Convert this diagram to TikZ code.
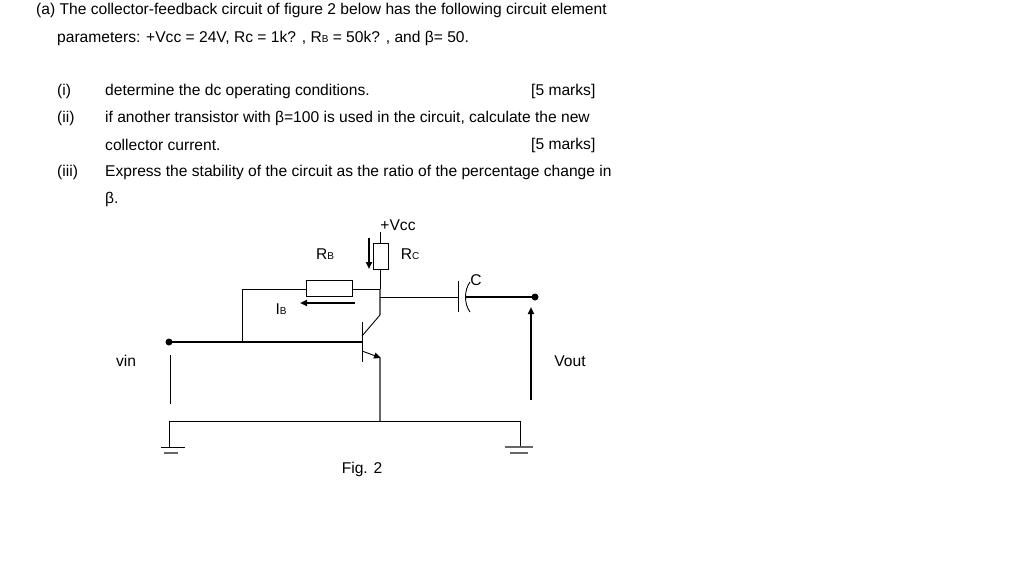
\documentclass[tikz,border=0pt]{standalone}
\usepackage{fontspec}
\setmainfont{Liberation Sans}
\usetikzlibrary{arrows.meta}
\begin{document}
\begin{tikzpicture}[x=1pt,y=-1pt,
  txt/.style={inner sep=0pt,anchor=west,font=\fontsize{15.6}{18}\selectfont},
  lbl/.style={inner sep=0pt,font=\fontsize{15.6}{18}\selectfont},
  wire/.style={line width=0.9pt},
  thick wire/.style={line width=2.4pt},
  gw/.style={line width=1.3pt,gray!80!black},
  res/.style={draw,line width=0.9pt,fill=white},
  arr/.style={line width=2.2pt,-{Triangle[length=7pt,width=6pt]}}]
\useasboundingbox (0,0) rectangle (1024,576);
\node[txt] (l1) at (36,10) {(a) The collector-feedback circuit of figure 2 below has the following circuit element};
\node[txt] (l2) at (57,38) {parameters: +Vcc = 24V, Rc = 1k? , R{\fontsize{10}{10}\selectfont B} = 50k? , and β= 50.};
\node[txt] (i1) at (57,91) {(i)};
\node[txt] (i2) at (105,91) {determine the dc operating conditions.};
\node[txt] (i3) at (531,91) {[5 marks]};
\node[txt] (ii1) at (57,118) {(ii)};
\node[txt] (ii2) at (105,118) {if another transistor with β=100 is used in the circuit, calculate the new};
\node[txt] (ii3) at (105,145) {collector current.};
\node[txt] (ii4) at (531,145) {[5 marks]};
\node[txt] (iii1) at (57,172) {(iii)};
\node[txt] (iii2) at (105,172) {Express the stability of the circuit as the ratio of the percentage change in};
\node[txt] (iii3) at (105,199) {β.};
% circuit
\node[lbl] (vcc) at (398,225) {+Vcc};
\node[lbl] (rbl) at (325,254) {R{\fontsize{10}{10}\selectfont B}};
\node[lbl] (rcl) at (410,254) {R{\fontsize{10}{10}\selectfont C}};
\node[lbl] (cl) at (476,280) {C};
\node[lbl] (ibl) at (281,309) {I{\fontsize{10}{10}\selectfont B}};
\node[lbl] (vin) at (126,361) {vin};
\node[lbl] (vout) at (570,361) {Vout};
\node[lbl] (fig) at (362,469) {Fig. 2};
\coordinate (ctop) at (380,232);
\coordinate (cjn) at (380,289);
\coordinate (ccol) at (380,315);
\coordinate (bl) at (242,289);
\coordinate (bb) at (242,342);
\coordinate (in) at (169,342);
\coordinate (bas) at (362,342);
\coordinate (eg) at (380,421);
\coordinate (gl) at (169,421);
\coordinate (gr) at (520,421);
\coordinate (out) at (535,297);
\draw[wire] (ctop) -- (cjn);
\draw[gw] (cjn) -- (ccol);
\node[res,minimum width=15pt,minimum height=26pt,inner sep=0pt] (rc) at (381,256) {};
\draw[wire] (bl) -- (cjn);
\draw[wire] (bl) -- (bb);
\node[res,minimum width=46pt,minimum height=16pt,inner sep=0pt] (rb) at (329,288) {};
\draw[wire] (380,297) -- (458,297);
\draw[wire] (458,281) -- (458,312);
\draw[wire] (470,282) .. controls (464,290) and (464,304) .. (470,312);
\draw[thick wire] (466,297) -- (out);
\fill (out) circle (3.5pt);
\draw[thick wire] (in) -- (bas);
\fill (in) circle (3.5pt);
\draw[wire] (362,322) -- (362,362);
\draw[wire] (362,336) -- (ccol);
\draw[wire,-{Triangle[length=7pt,width=6pt]}] (362,351) -- (381,358);
\draw[gw] (380,358) -- (eg);
\draw[wire] (gl) -- (gr);
\draw[wire] (170,355) -- (170,404);
\draw[wire] (gl) -- (169,447);
\draw[wire] (161,447) -- (185,447);
\draw[gw] (164,453) -- (178,453);
\draw[wire] (gr) -- (520,447);
\draw[gw] (505,447) -- (533,447);
\draw[gw] (510,453) -- (528,453);
\draw[arr] (369,238) -- (369,269);
\draw[arr] (355,303) -- (300,303);
\draw[arr] (531,400) -- (531,307);
\end{tikzpicture}
\end{document}
